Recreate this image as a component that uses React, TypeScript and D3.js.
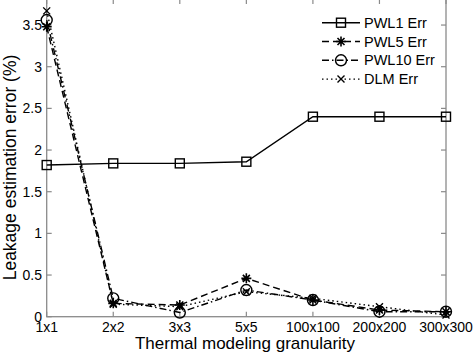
import React from "react";
import * as d3 from "d3";

const categories = ["1x1", "2x2", "3x3", "5x5", "100x100", "200x200", "300x300"];
const pwl1 = [1.82, 1.84, 1.84, 1.86, 2.4, 2.4, 2.4];
const pwl5 = [3.48, 0.16, 0.14, 0.46, 0.2, 0.08, 0.06];
const pwl10 = [3.56, 0.22, 0.05, 0.32, 0.2, 0.06, 0.06];
const dlm = [3.67, 0.15, 0.12, 0.3, 0.22, 0.12, 0.02];
const yTicks = [0, 0.5, 1, 1.5, 2, 2.5, 3, 3.5];
const seriesNames = ["PWL1 Err", "PWL5 Err", "PWL10 Err", "DLM Err"];

const W = 474, H = 355;
const L = 46.7, R = 446, T = -1, B = 316.7;
const FONT = "'Liberation Sans', Arial, Helvetica, sans-serif";

function Marker({ type, x, y }: { type: string; x: number; y: number }) {
  const s = 4.5;
  if (type === "square")
    return <rect x={x - s} y={y - s} width={2 * s} height={2 * s} fill="none" stroke="#000" strokeWidth={1.4} />;
  if (type === "circle")
    return <circle cx={x} cy={y} r={5.5} fill="none" stroke="#000" strokeWidth={1.4} />;
  if (type === "x")
    return (
      <path d={`M${x - 3.5},${y - 3.5}L${x + 3.5},${y + 3.5}M${x - 3.5},${y + 3.5}L${x + 3.5},${y - 3.5}`} stroke="#000" strokeWidth={1.4} />
    );
  const r = 5;
  return (
    <path
      d={`M${x - r},${y}L${x + r},${y}M${x},${y - r}L${x},${y + r}M${x - r * 0.7},${y - r * 0.7}L${x + r * 0.7},${y + r * 0.7}M${x - r * 0.7},${y + r * 0.7}L${x + r * 0.7},${y - r * 0.7}`}
      stroke="#000"
      strokeWidth={1.6}
    />
  );
}

export default function App() {
  const x = d3.scaleLinear().domain([0, categories.length - 1]).range([L, R]);
  const y = d3.scaleLinear().domain([0, 3.8]).range([B, B - 3.8 * 83.33]);
  const line = d3.line<number>().x((_, i) => x(i)).y((d) => y(d));

  const series = [
    { name: seriesNames[0], data: pwl1, dash: "none", marker: "square" },
    { name: seriesNames[1], data: pwl5, dash: "7,4", marker: "star" },
    { name: seriesNames[2], data: pwl10, dash: "7,3,1.5,3", marker: "circle" },
    { name: seriesNames[3], data: dlm, dash: "1.5,3", marker: "x" },
  ];

  const axisColor = "#8a8a8a";
  const tickLen = 5;

  return (
    <svg width={W} height={H} style={{ position: "absolute", left: 0, top: 0, background: "#fff" }}>
      <rect x={0} y={0} width={W} height={H} fill="#fff" />
      <rect x={L} y={T} width={R - L} height={B - T} fill="none" stroke={axisColor} strokeWidth={1.3} />
      {yTicks.map((t) => (
        <g key={t}>
          <line x1={L} x2={L + tickLen} y1={y(t)} y2={y(t)} stroke={axisColor} strokeWidth={1.2} />
          <line x1={R} x2={R - tickLen} y1={y(t)} y2={y(t)} stroke={axisColor} strokeWidth={1.2} />
          <text x={42} y={y(t) + 5} textAnchor="end" fontFamily={FONT} fontSize={14} fill="#000">
            {d3.format("~g")(t)}
          </text>
        </g>
      ))}
      {categories.map((c, i) => (
        <g key={c}>
          <line x1={x(i)} x2={x(i)} y1={B} y2={B - tickLen} stroke={axisColor} strokeWidth={1.2} />
          <line x1={x(i)} x2={x(i)} y1={T} y2={T + tickLen} stroke={axisColor} strokeWidth={1.2} />
          <text x={x(i)} y={331.5} textAnchor="middle" fontFamily={FONT} fontSize={14} fill="#000">
            {c}
          </text>
        </g>
      ))}
      {series.map((s) => (
        <g key={s.name}>
          <path d={line(s.data) || ""} fill="none" stroke="#000" strokeWidth={1.4} strokeDasharray={s.dash} />
          {s.data.map((v, i) => (
            <Marker key={i} type={s.marker} x={x(i)} y={y(v)} />
          ))}
        </g>
      ))}
      {series.map((s, i) => {
        const ly = 22.7 + i * 18.8;
        return (
          <g key={s.name}>
            <line x1={322} x2={360} y1={ly} y2={ly} stroke="#000" strokeWidth={1.4} strokeDasharray={s.dash} />
            <Marker type={s.marker} x={341} y={ly} />
            <text x={364} y={ly + 5} fontFamily={FONT} fontSize={14.5} fill="#000">
              {s.name}
            </text>
          </g>
        );
      })}
      <text x={245} y={348.5} textAnchor="middle" fontFamily={FONT} fontSize={17} fill="#000">
        Thermal modeling granularity
      </text>
      <text
        transform={`translate(16,167.5) rotate(-90)`}
        textAnchor="middle"
        fontFamily={FONT}
        fontSize={17.5}
        fill="#000"
      >
        Leakage estimation error (%)
      </text>
    </svg>
  );
}
